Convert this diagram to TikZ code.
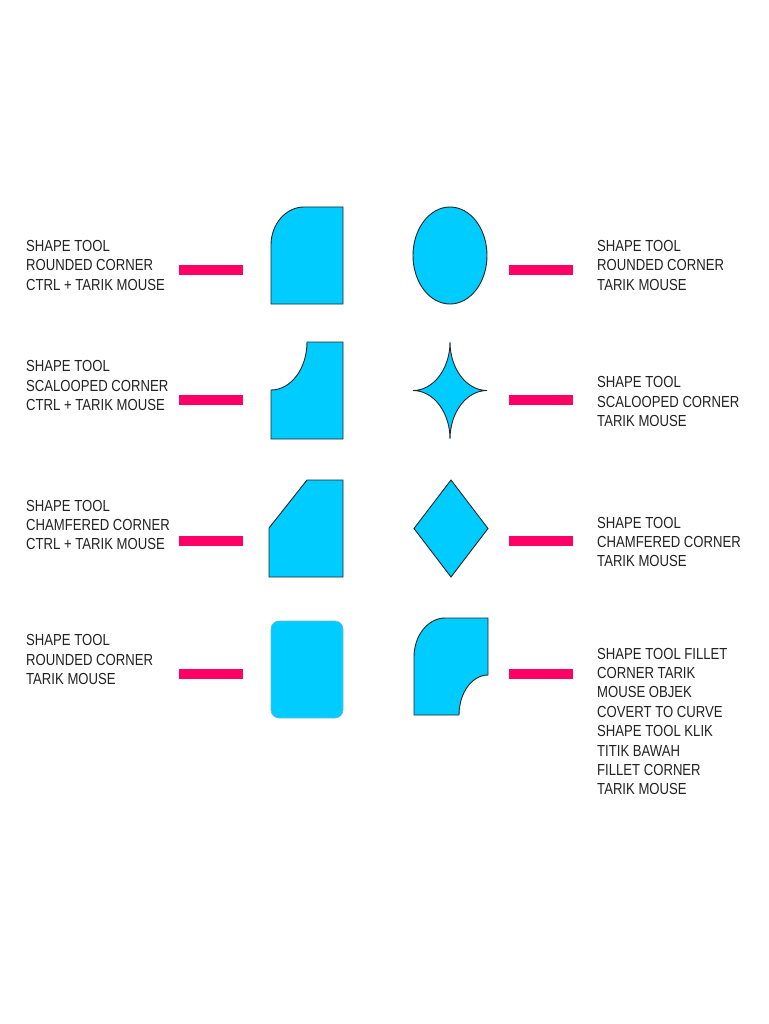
\documentclass[tikz,border=0pt]{standalone}
\usepackage{fontspec}
\setmainfont{Liberation Sans}[FakeStretch=0.82]
\definecolor{shapefill}{HTML}{00CCFF}
\definecolor{barpink}{HTML}{FF0066}
\definecolor{txt}{HTML}{222222}
\tikzset{
  shp/.style={draw=black!85, line width=0.9pt, fill=shapefill, line join=miter},
  bar/.style={fill=barpink, draw=none, minimum width=64pt, minimum height=10pt, inner sep=0pt},
  lbl/.style={anchor=west, align=left, inner sep=0pt, text=txt,
    font=\fontsize{16pt}{19.4pt}\selectfont}
}
\begin{document}
\begin{tikzpicture}[x=1pt,y=-1pt]
\useasboundingbox (0,0) rectangle (768,1024);
% Row 1
\node[lbl] (t1l) at (26,265.3) {SHAPE TOOL\\ROUNDED CORNER\\CTRL + TARIK MOUSE};
\node[bar] (b1l) at (211,270) {};
\draw[shp] (271,304) -- (271,245) .. controls (271,224) and (286,207) .. (304,207) -- (343,207) -- (343,304) -- cycle;
\draw[shp] (450,255.5) ellipse [x radius=37, y radius=48.5];
\node[bar] (b1r) at (541,270) {};
\node[lbl] (t1r) at (597,265.3) {SHAPE TOOL\\ROUNDED CORNER\\TARIK MOUSE};
% Row 2
\node[lbl] (t2l) at (26,385.5) {SHAPE TOOL\\SCALOOPED CORNER\\CTRL + TARIK MOUSE};
\node[bar] (b2l) at (211,400) {};
\draw[shp] (271,439) -- (271,390) .. controls (291,390) and (307,368.5) .. (307,342) -- (343,342) -- (343,439) -- cycle;
\draw[shp] (450,342) .. controls (450,368.8) and (466.6,390.5) .. (487,390.5)
  .. controls (466.6,390.5) and (450,412.2) .. (450,439)
  .. controls (450,412.2) and (433.4,390.5) .. (413,390.5)
  .. controls (433.4,390.5) and (450,368.8) .. (450,342) -- cycle;
\node[bar] (b2r) at (541,400) {};
\node[lbl] (t2r) at (597,401.5) {SHAPE TOOL\\SCALOOPED CORNER\\TARIK MOUSE};
% Row 3
\node[lbl] (t3l) at (26,525) {SHAPE TOOL\\CHAMFERED CORNER\\CTRL + TARIK MOUSE};
\node[bar] (b3l) at (211,541) {};
\draw[shp] (269,577) -- (269,528) -- (307,480) -- (343,480) -- (343,577) -- cycle;
\draw[shp] (451,480) -- (488,528.5) -- (451,577) -- (414,528.5) -- cycle;
\node[bar] (b3r) at (541,541) {};
\node[lbl] (t3r) at (597,542) {SHAPE TOOL\\CHAMFERED CORNER\\TARIK MOUSE};
% Row 4
\node[lbl] (t4l) at (26,659.5) {SHAPE TOOL\\ROUNDED CORNER\\TARIK MOUSE};
\node[bar] (b4l) at (211,674) {};
\draw[shp, draw=shapefill!70!black!60, line width=0.6pt, rounded corners=8pt] (271,621) rectangle (343,718);
\draw[shp] (414,715) -- (414,657) .. controls (414,635.5) and (428,618) .. (445,618) -- (488,618) -- (488,675) .. controls (472,675) and (459,693) .. (459,715) -- cycle;
\node[bar] (b4r) at (541,674) {};
\node[lbl] (t4r) at (597,721.5) {SHAPE TOOL FILLET\\CORNER TARIK\\MOUSE OBJEK\\COVERT TO CURVE\\SHAPE TOOL KLIK\\TITIK BAWAH\\FILLET CORNER\\TARIK MOUSE};
\end{tikzpicture}
\end{document}
